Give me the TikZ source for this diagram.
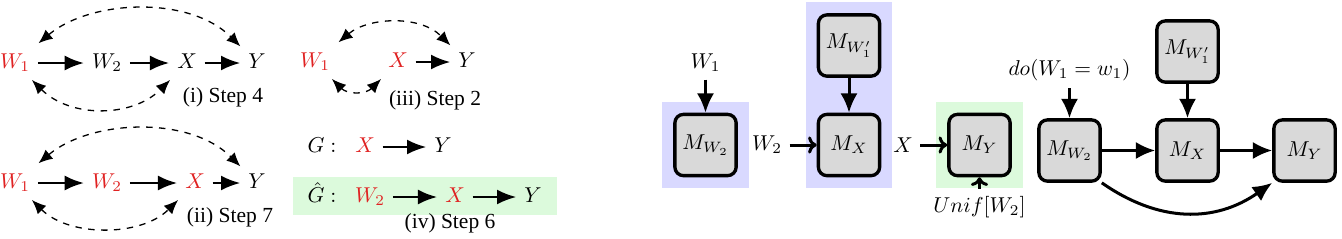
\documentclass[tikz,border=0pt]{standalone}
\usepackage{amsmath,amssymb,xcolor,tikz}
\usepackage{fontspec}
\setmainfont{Liberation Serif}
\usetikzlibrary{arrows.meta,positioning,fit,backgrounds}
\definecolor{Rv}{HTML}{E02222}
\definecolor{Bbg}{HTML}{D9D9FF}
\definecolor{Gbg}{HTML}{DCFADC}
\definecolor{Mfill}{HTML}{D9D9D9}
\tikzset{
  v/.style={inner sep=3.5pt, text height=6.8pt, text depth=1.6pt},
  rv/.style={v, text=Rv},
  ed/.style={-{Latex[length=9pt,width=7pt]}, line width=1.25pt},
  bi/.style={{Latex[length=6.5pt,width=5.5pt]}-{Latex[length=6.5pt,width=5.5pt]}, dashed, semithick},
  stepcap/.style={inner sep=1pt},
  mech/.style={draw, line width=1.55pt, rounded corners=4pt, fill=Mfill, minimum size=28.5pt, inner sep=0pt},
  feed/.style={-{Computer Modern Rightarrow[length=4pt,width=8pt]}, line width=1.4pt},
  cause/.style={-{Latex[length=9pt,width=8pt]}, line width=1.4pt},
  bgB/.style={fill=Bbg, inner sep=5pt},
  bgG/.style={fill=Gbg, inner sep=5pt},
}

\begin{document}
\begin{tikzpicture}[x=0.465pt, y=-0.465pt]
  \useasboundingbox (0,0) rectangle (1342,238);
  % (i) step 4
  \node[rv] (w1a) at (15,63) {$W_1$};
  \node[v] (w2a) at (107,63) {$W_2$};
  \node[v] (xa) at (187,63) {$X$};
  \node[v] (ya) at (257,63) {$Y$};
  \draw[ed] (w1a) -- (w2a); \draw[ed] (w2a) -- (xa); \draw[ed] (xa) -- (ya);
  \draw[bi, shorten <=2pt] (w1a) to[out=40, in=135, looseness=0.9] (ya);
  \draw[bi] (w1a) to[out=-45, in=-135, looseness=1] (xa);
  \node[stepcap] (ci) at (223,97) {(i) Step 4};
  % (ii) step 7
  \node[rv] (w1b) at (15,183) {$W_1$};
  \node[rv] (w2b) at (107,183) {$W_2$};
  \node[rv] (xb) at (195,183) {$X$};
  \node[v] (yb) at (257,183) {$Y$};
  \draw[ed] (w1b) -- (w2b); \draw[ed] (w2b) -- (xb); \draw[ed] (xb) -- (yb);
  \draw[bi, shorten <=2pt] (w1b) to[out=40, in=135, looseness=0.9] (yb);
  \draw[bi] (w1b) to[out=-45, in=-135, looseness=0.92] (xb);
  \node[stepcap] (cii) at (230,217) {(ii) Step 7};
  % (iii) step 2
  \node[rv] (w1c) at (315,62) {$W_1$};
  \node[rv] (xc) at (398,62) {$X$};
  \node[v] (yc) at (467,62) {$Y$};
  \draw[ed] (xc) -- (yc);
  \draw[bi, shorten <=2pt] (w1c) to[out=40, in=135, looseness=0.96] (yc);
  \draw[bi] (w1c) to[out=-45, in=-135, looseness=1.15] (xc);
  \node[stepcap] (ciii) at (435,100) {(iii) Step 2};
  % G and G hat, step 6
  \node[v] (g) at (322,147) {$G:$};
  \node[rv] (xg) at (365,147) {$X$};
  \node[v] (yg) at (443,147) {$Y$};
  \draw[ed] (xg) -- (yg);
  \node[v] (gh) at (322,197) {$\hat{G}:$};
  \node[rv] (w2h) at (370,197) {$W_2$};
  \node[rv] (xh) at (455,197) {$X$};
  \node[v] (yh) at (533,197) {$Y$};
  \draw[ed] (w2h) -- (xh); \draw[ed] (xh) -- (yh);
  \node[stepcap] (civ) at (450,223) {(iv) Step 6};
  % split mechanisms
  \node[mech] (mw2) at (705.5,145) {$M_{W_2}$};
  \node (w1in) at (705.5,63) {$W_1$};
  \draw[cause] (w1in) -- (mw2);
  \node[mech] (mw1p) at (849,45.5) {$M_{W'_1}$};
  \node[mech] (mx) at (849,145) {$M_X$};
  \draw[cause] (mw1p) -- (mx);
  \node (w2in) at (767,145) {$W_2$};
  \draw[feed] (w2in) -- (mx);
  \node[mech] (my) at (979.5,145) {$M_Y$};
  \node (xin) at (903,145) {$X$};
  \draw[feed] (xin) -- (my);
  \node (unif) at (979.5,207) {$Unif[W_2]$};
  \draw[feed] (unif) -- (my);
  % recombined model
  \node[mech] (mw2b) at (1069.5,150.5) {$M_{W_2}$};
  \node[mech] (mxb) at (1187.5,150.5) {$M_X$};
  \node[mech] (myb) at (1304.5,150.5) {$M_Y$};
  \node[mech] (mw1pb) at (1187.5,51.5) {$M_{W'_1}$};
  \node (do) at (1069.5,70) {$do(W_1=w_1)$};
  \draw[cause] (do) -- (mw2b);
  \draw[cause] (mw1pb) -- (mxb);
  \draw[cause] (mw2b) -- (mxb);
  \draw[cause] (mxb) -- (myb);
  \draw[cause] (mw2b.south east) to[out=-35, in=-145, looseness=1.05] (myb.south west);
  \begin{scope}[on background layer]
    \fill[Gbg] (293,177) rectangle (557,215);
    \node[bgB, fit=(mw2)] (bw2) {};
    \node[bgB, fit=(mw1p)(mx)] (bx) {};
    \node[bgG, fit=(my)] (by) {};
  \end{scope}
\end{tikzpicture}
\end{document}
